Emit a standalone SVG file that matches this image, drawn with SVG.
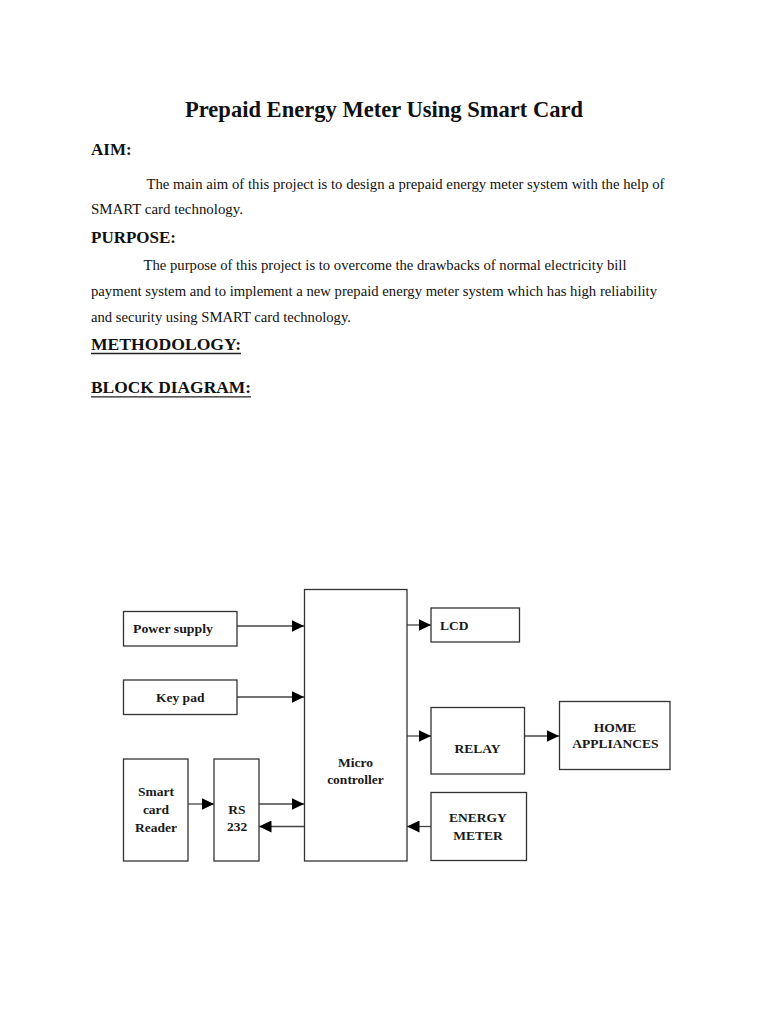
<svg xmlns="http://www.w3.org/2000/svg" width="768" height="1024" viewBox="0 0 768 1024">
<style>
.bg{fill:#ffffff}
.t{font-family:"Liberation Serif","Times New Roman",serif;fill:#111}
.title{font-size:23.5px;font-weight:bold}
.h{font-size:17px;font-weight:bold}
.p{font-size:14.5px}
.n{font-size:13.5px;font-weight:bold;fill:#1a1a1a}
.box{fill:#ffffff;stroke:#333;stroke-width:1.3}
.c{stroke:#444;stroke-width:1.3;fill:none}
.u{stroke:#222;stroke-width:1.3}
</style>
<defs>
<marker id="ah" markerUnits="userSpaceOnUse" markerWidth="13" markerHeight="12" refX="12.5" refY="6" orient="auto">
<path d="M0,0 L12.5,6 L0,12 z" fill="#000"/>
</marker>
</defs>
<rect class="bg" x="0" y="0" width="768" height="1024"/>

<g id="text">
<text class="t title" x="185" y="116.5" textLength="398" lengthAdjust="spacingAndGlyphs">Prepaid Energy Meter Using Smart Card</text>
<text class="t h" x="91" y="155">AIM:</text>
<text class="t p" x="146.5" y="188.5" textLength="518" lengthAdjust="spacingAndGlyphs">The main aim of this project is to design a prepaid energy meter system with the help of</text>
<text class="t p" x="91" y="213.5" textLength="152" lengthAdjust="spacingAndGlyphs">SMART card technology.</text>
<text class="t h" x="91" y="242.5">PURPOSE:</text>
<text class="t p" x="143.5" y="270" textLength="483" lengthAdjust="spacingAndGlyphs">The purpose of this project is to overcome the drawbacks of normal electricity bill</text>
<text class="t p" x="91" y="296" textLength="566" lengthAdjust="spacingAndGlyphs">payment system and to implement a new prepaid energy meter system which has high reliability</text>
<text class="t p" x="91" y="321.7" textLength="260" lengthAdjust="spacingAndGlyphs">and security using SMART card technology.</text>
<text class="t h" x="91" y="350" textLength="150" lengthAdjust="spacingAndGlyphs">METHODOLOGY:</text>
<line class="u" x1="91" y1="353.5" x2="241" y2="353.5"/>
<text class="t h" x="91" y="393.3" textLength="160" lengthAdjust="spacingAndGlyphs">BLOCK DIAGRAM:</text>
<line class="u" x1="91" y1="396.8" x2="251" y2="396.8"/>
</g>

<g id="connectors">
<line class="c" x1="237" y1="626" x2="304" y2="626" marker-end="url(#ah)"/>
<line class="c" x1="237" y1="697" x2="304" y2="697" marker-end="url(#ah)"/>
<line class="c" x1="188" y1="804" x2="214" y2="804" marker-end="url(#ah)"/>
<line class="c" x1="259" y1="804" x2="304" y2="804" marker-end="url(#ah)"/>
<line class="c" x1="304" y1="826.5" x2="259" y2="826.5" marker-end="url(#ah)"/>
<line class="c" x1="407" y1="625" x2="431" y2="625" marker-end="url(#ah)"/>
<line class="c" x1="407" y1="736" x2="431" y2="736" marker-end="url(#ah)"/>
<line class="c" x1="525" y1="736" x2="559" y2="736" marker-end="url(#ah)"/>
<line class="c" x1="431" y1="826.5" x2="407" y2="826.5" marker-end="url(#ah)"/>
</g>

<g id="power-supply">
<rect class="box" x="123.5" y="611.5" width="113.5" height="34.5"/>
<text class="t n" x="133" y="633" textLength="80" lengthAdjust="spacingAndGlyphs">Power supply</text>
</g>
<g id="keypad">
<rect class="box" x="123.5" y="680" width="113.5" height="34.5"/>
<text class="t n" x="156" y="702">Key pad</text>
</g>
<g id="smart-card-reader">
<rect class="box" x="123.5" y="759" width="64.5" height="102"/>
<text class="t n" x="156" y="796" text-anchor="middle">Smart</text>
<text class="t n" x="156" y="814" text-anchor="middle">card</text>
<text class="t n" x="156" y="831.5" text-anchor="middle">Reader</text>
</g>
<g id="rs232">
<rect class="box" x="214" y="759" width="45" height="102"/>
<text class="t n" x="237" y="814" text-anchor="middle">RS</text>
<text class="t n" x="237" y="830.5" text-anchor="middle">232</text>
</g>
<g id="microcontroller">
<rect class="box" x="304.5" y="589.5" width="102.5" height="271.5"/>
<text class="t n" x="355.5" y="767" text-anchor="middle">Micro</text>
<text class="t n" x="355.5" y="784" text-anchor="middle">controller</text>
</g>
<g id="lcd">
<rect class="box" x="431" y="608" width="88.5" height="34"/>
<text class="t n" x="440" y="629.5">LCD</text>
</g>
<g id="relay">
<rect class="box" x="431" y="707.5" width="93.5" height="66.5"/>
<text class="t n" x="477.5" y="753" text-anchor="middle">RELAY</text>
</g>
<g id="home-appliances">
<rect class="box" x="559.5" y="701.5" width="110.5" height="68"/>
<text class="t n" x="615" y="731.5" text-anchor="middle">HOME</text>
<text class="t n" x="615.5" y="748" text-anchor="middle">APPLIANCES</text>
</g>
<g id="energy-meter">
<rect class="box" x="431" y="792.5" width="95.5" height="68"/>
<text class="t n" x="478" y="822" text-anchor="middle">ENERGY</text>
<text class="t n" x="478" y="840" text-anchor="middle">METER</text>
</g>
</svg>
